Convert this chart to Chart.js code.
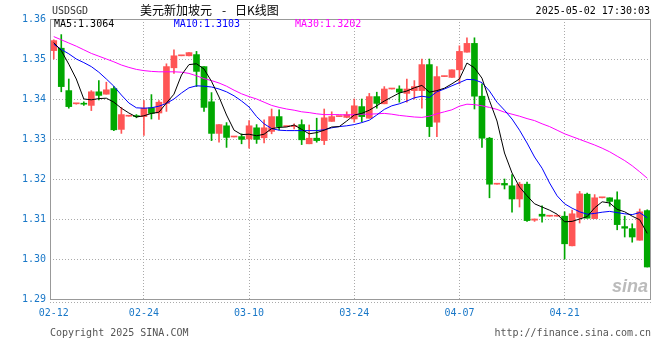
<!DOCTYPE html>
<html>
<head>
<meta charset="utf-8">
<script src="https://cdn.jsdelivr.net/npm/chart.js@4"></script>
<style>
  body { margin: 0; background: #fff; }
</style>
</head>
<body>
<canvas id="kline" width="660" height="360"></canvas>
<script>
// USDSGD daily candles, 02-12 .. 05-02 (every calendar day)
const dates = [
  '02-12','02-13','02-14','02-15','02-16','02-17','02-18','02-19','02-20','02-21',
  '02-22','02-23','02-24','02-25','02-26','02-27','02-28','03-01','03-02','03-03',
  '03-04','03-05','03-06','03-07','03-08','03-09','03-10','03-11','03-12','03-13',
  '03-14','03-15','03-16','03-17','03-18','03-19','03-20','03-21','03-22','03-23',
  '03-24','03-25','03-26','03-27','03-28','03-29','03-30','03-31','04-01','04-02',
  '04-03','04-04','04-05','04-06','04-07','04-08','04-09','04-10','04-11','04-12',
  '04-13','04-14','04-15','04-16','04-17','04-18','04-19','04-20','04-21','04-22',
  '04-23','04-24','04-25','04-26','04-27','04-28','04-29','04-30','05-01','05-02'
];
const tickDates = ['02-12', '02-24', '03-10', '03-24', '04-07', '04-21'];

const opens = [
  1.3521,1.3527,1.3421,1.3388,1.3389,1.3384,1.3418,1.3412,1.3426,1.3324,
  1.3357,1.3358,1.3356,1.3378,1.3365,1.3389,1.3478,1.3508,1.3508,1.3511,
  1.3481,1.3393,1.3314,1.3333,1.3305,1.3306,1.3300,1.3328,1.3303,1.3319,
  1.3356,1.3331,1.3331,1.3336,1.3288,1.3302,1.3296,1.3344,1.3356,1.3354,
  1.3350,1.3381,1.3352,1.3406,1.3388,1.3425,1.3425,1.3414,1.3421,1.3421,
  1.3486,1.3342,1.3456,1.3454,1.3473,1.3517,1.3539,1.3407,1.3302,1.3187,
  1.3189,1.3183,1.3150,1.3187,1.3097,1.3112,1.3107,1.3107,1.3107,1.3033,
  1.3104,1.3162,1.3101,1.3153,1.3153,1.3148,1.3081,1.3076,1.3047,1.3121
];
const closes = [
  1.3546,1.3431,1.3381,1.3388,1.3387,1.3418,1.3409,1.3423,1.3323,1.3361,
  1.3358,1.3356,1.3377,1.3364,1.3392,1.3481,1.3508,1.3509,1.3516,1.3469,
  1.3379,1.3314,1.3336,1.3304,1.3306,1.3299,1.3333,1.3299,1.3328,1.3356,
  1.3331,1.3332,1.3333,1.3298,1.3302,1.3296,1.3353,1.3356,1.3357,1.3361,
  1.3383,1.3356,1.3406,1.3389,1.3425,1.3426,1.3417,1.3425,1.3431,1.3486,
  1.3331,1.3456,1.3457,1.3473,1.3519,1.3539,1.3407,1.3302,1.3187,1.3188,
  1.3185,1.3150,1.3187,1.3096,1.3100,1.3107,1.3108,1.3108,1.3038,1.3113,
  1.3163,1.3102,1.3153,1.3154,1.3144,1.3086,1.3077,1.3055,1.3118,1.2980
];
const highs = [
  1.3548,1.3561,1.3450,1.3389,1.3393,1.3421,1.3446,1.3442,1.3431,1.3379,
  1.3358,1.3361,1.3396,1.3411,1.3396,1.3488,1.3523,1.3509,1.3516,1.3519,
  1.3481,1.3416,1.3336,1.3341,1.3306,1.3313,1.3346,1.3336,1.3348,1.3375,
  1.3373,1.3332,1.3338,1.3348,1.3335,1.3352,1.3375,1.3368,1.3357,1.3368,
  1.3400,1.3400,1.3414,1.3417,1.3431,1.3426,1.3433,1.3450,1.3446,1.3500,
  1.3500,1.3481,1.3457,1.3473,1.3533,1.3553,1.3553,1.3438,1.3304,1.3188,
  1.3200,1.3211,1.3192,1.3192,1.3100,1.3133,1.3108,1.3108,1.3118,1.3122,
  1.3169,1.3165,1.3161,1.3154,1.3153,1.3168,1.3107,1.3088,1.3125,1.3123
];
const lows = [
  1.3500,1.3418,1.3377,1.3387,1.3384,1.3371,1.3398,1.3412,1.3321,1.3314,
  1.3357,1.3353,1.3309,1.3350,1.3349,1.3369,1.3464,1.3508,1.3508,1.3431,
  1.3369,1.3296,1.3292,1.3279,1.3305,1.3288,1.3277,1.3289,1.3290,1.3313,
  1.3323,1.3331,1.3325,1.3286,1.3288,1.3292,1.3286,1.3344,1.3356,1.3353,
  1.3342,1.3343,1.3352,1.3377,1.3388,1.3425,1.3392,1.3392,1.3400,1.3377,
  1.3306,1.3306,1.3456,1.3454,1.3438,1.3517,1.3375,1.3279,1.3153,1.3187,
  1.3175,1.3117,1.3130,1.3094,1.3094,1.3092,1.3107,1.3107,1.3000,1.3033,
  1.3090,1.3102,1.3101,1.3153,1.3132,1.3073,1.3055,1.3042,1.3047,1.2980
];

// moving averages
const ma5 = [
  1.3541,1.3521,1.3487,1.3450,1.3400,1.3398,1.3401,1.3402,1.3392,1.3377,
  1.3365,1.3355,1.3358,1.3364,1.3367,1.3390,1.3412,1.3460,1.3486,1.3488,
  1.3475,1.3444,1.3405,1.3360,1.3322,1.3311,1.3312,1.3308,1.3312,1.3326,
  1.3329,1.3330,1.3335,1.3324,1.3313,1.3316,1.3322,1.3330,1.3331,1.3345,
  1.3360,1.3364,1.3372,1.3383,1.3395,1.3405,1.3415,1.3420,1.3428,1.3434,
  1.3417,1.3421,1.3427,1.3438,1.3450,1.3490,1.3478,1.3452,1.3396,1.3345,
  1.3265,1.3215,1.3180,1.3158,1.3138,1.3130,1.3122,1.3112,1.3093,1.3094,
  1.3100,1.3106,1.3128,1.3143,1.3140,1.3124,1.3118,1.3107,1.3098,1.3064
];
const ma10 = [
  1.3537,1.3524,1.3513,1.3500,1.3491,1.3481,1.3467,1.3450,1.3432,1.3410,
  1.3390,1.3378,1.3377,1.3378,1.3382,1.3389,1.3400,1.3415,1.3428,1.3433,
  1.3432,1.3430,1.3425,1.3418,1.3408,1.3395,1.3380,1.3356,1.3338,1.3326,
  1.3322,1.3321,1.3321,1.3321,1.3321,1.3321,1.3323,1.3328,1.3331,1.3333,
  1.3336,1.3341,1.3347,1.3360,1.3374,1.3383,1.3388,1.3395,1.3403,1.3407,
  1.3404,1.3418,1.3425,1.3433,1.3441,1.3449,1.3448,1.3441,1.3420,1.3392,
  1.3372,1.3350,1.3322,1.3290,1.3255,1.3227,1.3190,1.3158,1.3138,1.3127,
  1.3118,1.3112,1.3114,1.3117,1.3119,1.3116,1.3113,1.3111,1.3116,1.3103
];
const ma30 = [
  1.3556,1.3548,1.3540,1.3532,1.3523,1.3514,1.3507,1.3500,1.3493,1.3485,
  1.3479,1.3474,1.3471,1.3469,1.3468,1.3468,1.3468,1.3467,1.3464,1.3458,
  1.3451,1.3446,1.3440,1.3432,1.3422,1.3413,1.3406,1.3400,1.3392,1.3384,
  1.3379,1.3375,1.3372,1.3368,1.3366,1.3363,1.3361,1.3361,1.3361,1.3360,
  1.3361,1.3362,1.3362,1.3363,1.3364,1.3362,1.3359,1.3357,1.3355,1.3354,
  1.3357,1.3363,1.3368,1.3373,1.3382,1.3387,1.3386,1.3383,1.3379,1.3374,
  1.3367,1.3362,1.3357,1.3351,1.3346,1.3338,1.3331,1.3322,1.3313,1.3306,
  1.3299,1.3292,1.3285,1.3277,1.3268,1.3257,1.3246,1.3233,1.3218,1.3202
];

const UP = '#ff5555';
const DOWN = '#00a800';
const candleColors = closes.map((c, i) => c >= opens[i] ? UP : DOWN);

const bodies = opens.map((o, i) => [o, closes[i]]);
const wicks = lows.map((l, i) => [l, highs[i]]);

const MONO = '"DejaVu Sans Mono", monospace';
const BLUE = '#1a78c8';

// texts, frame and watermark
const decor = {
  id: 'decor',
  afterDraw(chart) {
    const ctx = chart.ctx;
    const a = chart.chartArea;
    ctx.save();
    // frame
    ctx.strokeStyle = '#999';
    ctx.lineWidth = 1;
    ctx.strokeRect(Math.round(a.left) + 0.5, Math.round(a.top) + 0.5,
      Math.round(a.right - a.left) - 1, Math.round(a.bottom - a.top));
    ctx.setLineDash([1, 2]);
    ctx.strokeStyle = '#aaa';
    ctx.beginPath();
    ctx.moveTo(a.left, a.bottom + 3.5);
    ctx.lineTo(a.right, a.bottom + 3.5);
    ctx.stroke();
    ctx.setLineDash([]);

    ctx.textBaseline = 'middle';
    ctx.font = '10px ' + MONO;
    ctx.fillStyle = '#333';
    ctx.textAlign = 'left';
    ctx.fillText('USDSGD', 52, 11);
    ctx.font = '12px "Noto Sans CJK SC", sans-serif';
    ctx.fillStyle = '#000';
    ctx.fillText('美元新加坡元', 140, 10);
    ctx.fillText('-', 222, 10);
    ctx.fillText('日K线图', 235, 10);
    ctx.font = '10px ' + MONO;
    ctx.textAlign = 'right';
    ctx.fillText('2025-05-02 17:30:03', 650, 11);

    // MA legend
    ctx.textAlign = 'left';
    ctx.fillStyle = '#000';
    ctx.fillText('MA5:' + ma5[ma5.length - 1].toFixed(4), 54, 24);
    ctx.fillStyle = '#0000ff';
    ctx.textAlign = 'right';
    ctx.fillText('MA10:' + ma10[ma10.length - 1].toFixed(4), 240, 24);
    ctx.fillStyle = '#ff00ff';
    ctx.textAlign = 'left';
    ctx.fillText('MA30:' + ma30[ma30.length - 1].toFixed(4), 295, 24);

    // footer
    ctx.fillStyle = '#555';
    ctx.fillText('Copyright 2025 SINA.COM', 50, 333);
    ctx.textAlign = 'right';
    ctx.fillText('http://finance.sina.com.cn', 651, 333);

    // watermark
    ctx.font = 'italic bold 18px "Liberation Sans", sans-serif';
    ctx.fillStyle = 'rgba(170,170,170,0.8)';
    ctx.fillText('sina', 648, 287);
    ctx.restore();
  }
};

new Chart(document.getElementById('kline'), {
  type: 'bar',
  data: {
    labels: dates,
    datasets: [
      { type: 'line', data: ma5, borderColor: '#000', borderWidth: 1, pointRadius: 0, tension: 0, order: 0 },
      { type: 'line', data: ma10, borderColor: '#0000ff', borderWidth: 1, pointRadius: 0, tension: 0, order: 0 },
      { type: 'line', data: ma30, borderColor: '#ff00ff', borderWidth: 1, pointRadius: 0, tension: 0, order: 0 },
      { data: bodies, backgroundColor: candleColors, barThickness: 6, minBarLength: 1, grouped: false, order: 1 },
      { data: wicks, backgroundColor: candleColors, barThickness: 1, grouped: false, order: 2 }
    ]
  },
  options: {
    responsive: false,
    animation: false,
    layout: { padding: { top: 19, right: 9, bottom: 0, left: 0 } },
    plugins: { legend: { display: false }, tooltip: { enabled: false } },
    scales: {
      x: {
        offset: true,
        afterFit: s => { s.height = 61; },
        grid: {
          offset: false,
          drawTicks: false,
          color: ctx => (ctx.index > 0 && tickDates.includes(dates[ctx.index])) ? '#aaa' : 'rgba(0,0,0,0)'
        },
        border: { display: false, dash: [1, 2] },
        ticks: {
          autoSkip: false,
          maxRotation: 0,
          padding: 8,
          color: BLUE,
          font: { family: MONO, size: 10 },
          callback: (v, i) => tickDates.includes(dates[i]) ? dates[i] : ''
        }
      },
      y: {
        min: 1.29,
        max: 1.36,
        afterFit: s => { s.width = 50; },
        grid: { drawTicks: false, color: '#aaa' },
        border: { display: false, dash: [1, 2] },
        ticks: {
          stepSize: 0.01,
          padding: 4,
          color: BLUE,
          font: { family: MONO, size: 10 },
          callback: v => v.toFixed(2)
        }
      }
    }
  },
  plugins: [decor]
});
</script>
</body>
</html>
